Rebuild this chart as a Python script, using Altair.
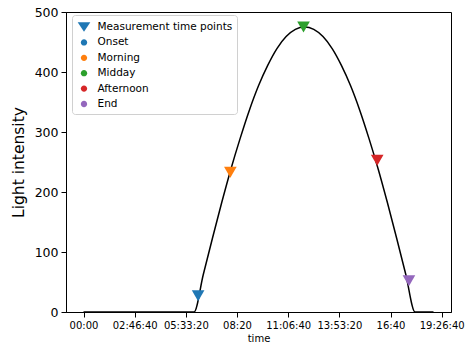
import altair as alt
import pandas as pd

# Light curve (seconds since midnight, intensity)
line_t = [0, 21600, 23400, 25200, 27000, 28800, 30600, 32400, 34200, 36000, 37800,
          39600, 41400, 43200, 45000, 46800, 48600, 50400, 52200, 54000, 55800,
          57600, 59400, 61200, 63000, 64800, 68400]
line_v = [0, 0, 62, 123, 182, 238, 289, 336, 377, 411, 439, 459, 471, 475, 471,
          459, 439, 411, 377, 336, 289, 238, 182, 123, 62, 0, 0]

# Measurement time points
point_labels = ["Onset", "Morning", "Midday", "Afternoon", "End"]
point_t = [22400, 28700, 43000, 57400, 63600]
point_v = [27, 233, 475, 253, 52]

legend_labels = ["Measurement time points", "Onset", "Morning", "Midday", "Afternoon", "End"]
legend_colors = ["#1f77b4", "#1f77b4", "#ff7f0e", "#2ca02c", "#d62728", "#9467bd"]

tick_seconds = [0, 10000, 20000, 30000, 40000, 50000, 60000, 70000]
tick_labels = ["00:00", "02:46:40", "05:33:20", "08:20", "11:06:40", "13:53:20", "16:40", "19:26:40"]
y_ticks = [0, 100, 200, 300, 400, 500]

line_df = pd.DataFrame({"t": line_t, "v": line_v})
pt_df = pd.DataFrame({"t": point_t, "v": point_v, "label": point_labels})
leg_df = pd.DataFrame({"label": legend_labels})

circle_path = "M0.5,0A0.5,0.5,0,1,1,-0.5,0A0.5,0.5,0,1,1,0.5,0Z"
tri_path = "M-1,-0.75L1,-0.75L0,0.75Z"
legend_shapes = [tri_path] + [circle_path] * 5

label_expr = "[" + ",".join("'" + s + "'" for s in tick_labels) + "][round(datum.value/10000)]"

x_scale = alt.Scale(domain=[-3420, 71820], nice=False, zero=False)
y_scale = alt.Scale(domain=[0, 500], nice=False)

x_axis = alt.Axis(values=tick_seconds, labelExpr=label_expr, title="time",
                  labelFontSize=10, titleFontSize=10, titleFontWeight="normal",
                  titleY=26, titleBaseline="middle", labelPadding=3)
y_axis = alt.Axis(values=y_ticks, title="Light intensity", labelFontSize=12.5,
                  titleFontSize=15.5, titleFontWeight="normal",
                  titleX=-48, titleY=150, titleBaseline="middle", titleAlign="center",
                  labelPadding=3)

color_scale = alt.Scale(domain=legend_labels, range=legend_colors)

line = alt.Chart(line_df).mark_line(color="black", strokeWidth=1.5, interpolate="monotone").encode(
    x=alt.X("t:Q", scale=x_scale, axis=x_axis),
    y=alt.Y("v:Q", scale=y_scale, axis=y_axis),
)

points = alt.Chart(pt_df).mark_point(filled=True, shape="triangle-down", size=160, opacity=1).encode(
    x=alt.X("t:Q", scale=x_scale),
    y=alt.Y("v:Q", scale=y_scale),
    color=alt.Color("label:N", scale=color_scale, title=None),
)

legend_layer = alt.Chart(leg_df).mark_point(filled=True, opacity=1, clip=True, size=160).encode(
    x=alt.value(-200),
    y=alt.value(-200),
    color=alt.Color("label:N", scale=color_scale, title=None,
                    legend=alt.Legend(orient="none", legendX=6, legendY=3,
                                      fillColor="white", strokeColor="#d0d0d0",
                                      cornerRadius=3, padding=4.5, rowPadding=2.4,
                                      labelFontSize=10.5, symbolSize=160,
                                      labelOffset=6, labelColor="black")),
    shape=alt.Shape("label:N", scale=alt.Scale(domain=legend_labels, range=legend_shapes),
                    title=None),
)

chart = alt.layer(line, points, legend_layer).properties(
    width=385, height=300,
    autosize=alt.AutoSizeParams(type="none"),
    padding={"left": 66, "top": 12, "right": 23, "bottom": 43},
).configure(
    font="DejaVu Sans",
).configure_axis(
    grid=False, domainColor="black", tickColor="black", labelColor="black",
    titleColor="black", tickSize=5, domainWidth=1, tickWidth=1,
    labelFont="DejaVu Sans", titleFont="DejaVu Sans",
).configure_legend(
    labelFont="DejaVu Sans",
).configure_view(
    stroke="black", strokeWidth=1,
)

chart.save("out.html", embed_options={"renderer": "svg", "actions": False})
